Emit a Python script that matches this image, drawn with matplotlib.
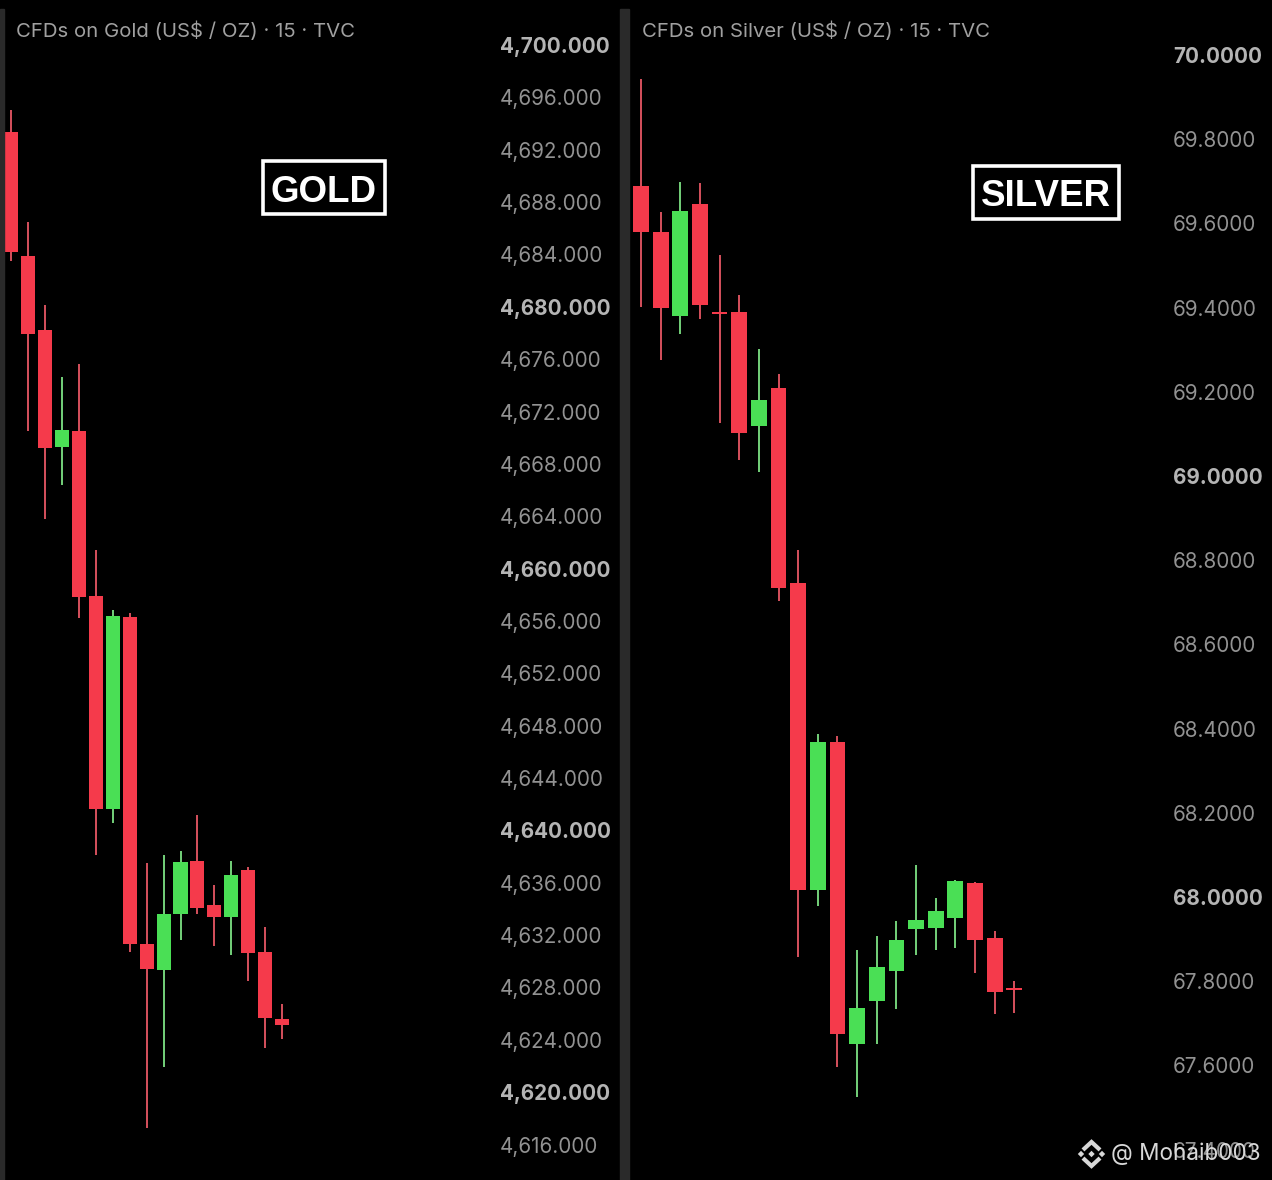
import matplotlib
matplotlib.use('Agg')
import matplotlib.pyplot as plt
from matplotlib.patches import Polygon, Rectangle

W, H = 1272, 1180

gold_open = [4693.35, 4683.9, 4678.2, 4669.3, 4670.5, 4657.9, 4641.6, 4656.3, 4631.3,
             4629.3, 4633.6, 4637.7, 4634.3, 4633.4, 4637.0, 4630.7, 4625.6]
gold_high = [4695.0, 4686.5, 4680.1, 4674.6, 4675.6, 4661.4, 4656.8, 4656.6, 4637.5,
             4638.1, 4638.4, 4641.2, 4635.8, 4637.7, 4637.2, 4632.6, 4626.7]
gold_low = [4683.5, 4670.5, 4663.8, 4666.4, 4656.2, 4638.1, 4640.6, 4630.7, 4617.3,
            4621.9, 4631.6, 4633.6, 4631.2, 4630.5, 4628.5, 4623.4, 4624.1]
gold_close = [4684.2, 4677.9, 4669.2, 4670.6, 4657.8, 4641.6, 4656.4, 4631.3, 4629.4,
              4633.6, 4637.6, 4634.1, 4633.4, 4636.6, 4630.6, 4625.7, 4625.1]

silver_open = [69.690, 69.580, 69.381, 69.645, 69.389, 69.390, 69.118, 69.209, 68.745, 68.016,
               68.368, 67.650, 67.752, 67.824, 67.924, 67.927, 67.951, 68.034, 67.903, 67.783]
silver_high = [69.942, 69.627, 69.699, 69.696, 69.525, 69.429, 69.301, 69.242, 68.825, 68.387,
               68.383, 67.874, 67.907, 67.942, 68.076, 67.998, 68.040, 68.036, 67.919, 67.801]
silver_low = [69.402, 69.276, 69.338, 69.373, 69.126, 69.038, 69.010, 68.702, 67.857, 67.979,
              67.596, 67.525, 67.650, 67.733, 67.862, 67.875, 67.879, 67.820, 67.722, 67.725]
silver_close = [69.580, 69.398, 69.630, 69.405, 69.385, 69.102, 69.181, 68.733, 68.016, 68.368,
                67.675, 67.736, 67.833, 67.897, 67.946, 67.966, 68.037, 67.897, 67.775, 67.779]

gold_ticks = [4700, 4696, 4692, 4688, 4684, 4680, 4676, 4672, 4668, 4664, 4660, 4656,
              4652, 4648, 4644, 4640, 4636, 4632, 4628, 4624, 4620, 4616]
silver_ticks = [70.0, 69.8, 69.6, 69.4, 69.2, 69.0, 68.8, 68.6, 68.4, 68.2, 68.0,
                67.8, 67.6, 67.4]

RED = '#F53A4B'
GREEN = '#4ADF55'
WICK_RED = '#DE5461'
WICK_GREEN = '#78D97E'
GRID = '#2A2A2A'
TICK = '#929292'
TICK_BOLD = '#B4B4B4'
FONT = 'Inter'


def candles(ax, o, h, l, c, width):
    for i in range(len(o)):
        up = c[i] >= o[i]
        ax.vlines(i, l[i], h[i], color=WICK_GREEN if up else WICK_RED, lw=1.35, zorder=2)
        ax.bar(i, abs(c[i] - o[i]), bottom=min(o[i], c[i]), width=width,
               color=GREEN if up else RED, linewidth=0, zorder=3)


def make_panel(left, right, x0, step, y_ref, y_val, scale):
    # pixel box -> axes, limits follow from where the labels sit in the picture
    ax = fig.add_axes([left / W, 0, (right - left) / W, (H - 9) / H])
    ax.set_facecolor('black')
    ax.set_xlim((left - x0) / step, (right - x0) / step)
    ax.set_ylim(y_val - (H - y_ref) / scale, y_val + (y_ref - 9) / scale)
    for s in ax.spines.values():
        s.set_visible(False)
    ax.set_xticks([])
    ax.yaxis.tick_right()
    ax.tick_params(axis='y', length=0, pad=0)
    return ax


fig = plt.figure(figsize=(W / 100, H / 100), dpi=100, facecolor='black')

# grey panel separators
fig.add_artist(Rectangle((0, 0), 4 / W, (H - 9) / H, color=GRID, transform=fig.transFigure))
fig.add_artist(Rectangle((620 / W, 0), 9 / W, (H - 9) / H, color=GRID, transform=fig.transFigure))

ax1 = make_panel(4, 500, 11.3, 16.92, 45, 4700, 13.09)
candles(ax1, gold_open, gold_high, gold_low, gold_close, 0.83)
ax1.set_yticks(gold_ticks)
ax1.set_yticklabels([f'{t:,.3f}' for t in gold_ticks], family=FONT, fontsize=14.85)
for t, lab in zip(gold_ticks, ax1.get_yticklabels()):
    bold = t % 20 == 0
    lab.set_color(TICK_BOLD if bold else TICK)
    lab.set_fontweight('bold' if bold else 'normal')

ax2 = make_panel(630, 1173, 641, 19.647, 55, 70.0, 421.0)
candles(ax2, silver_open, silver_high, silver_low, silver_close, 0.8)
ax2.set_yticks(silver_ticks)
ax2.set_yticklabels([f'{t:.4f}' for t in silver_ticks], family=FONT, fontsize=14.85)
for t, lab in zip(silver_ticks, ax2.get_yticklabels()):
    bold = abs(t - round(t)) < 1e-6
    lab.set_color(TICK_BOLD if bold else TICK)
    lab.set_fontweight('bold' if bold else 'normal')

# titles
fig.text(16 / W, 1 - 31 / H, 'CFDs on Gold (US$ / OZ) · 15 · TVC', color='#A0A0A0',
         family=FONT, fontsize=14.65, va='center', ha='left')
fig.text(642 / W, 1 - 31 / H, 'CFDs on Silver (US$ / OZ) · 15 · TVC', color='#A0A0A0',
         family=FONT, fontsize=14.65, va='center', ha='left')

# overlay in picture pixels for the boxes and the watermark
over = fig.add_axes([0, 0, 1, 1], facecolor='none')
over.set_xlim(0, W)
over.set_ylim(H, 0)
over.axis('off')

for label, x, y, bx, by, bw, bh in [('GOLD', 324, 188, 263, 161, 122, 53),
                                    ('SILVER', 1045.5, 193, 972.5, 166, 146, 53)]:
    over.add_patch(Rectangle((bx, by), bw, bh, fc='black', ec='white', lw=2.6))
    over.text(x, y, label, color='white', family='Liberation Sans', fontweight='bold',
              fontsize=26.5, ha='center', va='center_baseline')

cx, cy = 1091.5, 1154
LOGO = '#D8D8D8'
for dx, dy, r in [(0, 0, 3.2), (-10.5, 0, 3.2), (10.5, 0, 3.2)]:
    over.add_patch(Polygon([(cx + dx - r, cy + dy), (cx + dx, cy + dy - r),
                            (cx + dx + r, cy + dy), (cx + dx, cy + dy + r)], color=LOGO, lw=0))
for sgn in (-1, 1):
    over.plot([cx - 7, cx, cx + 7], [cy + sgn * 5.5, cy + sgn * 12, cy + sgn * 5.5],
              color=LOGO, lw=3, solid_joinstyle='miter')
over.text(1111, 1154, '@ Mohaib003', color='#D8D8D8', family=FONT, fontsize=16.2,
          ha='left', va='center')

fig.savefig('out.png', dpi=100, facecolor='black')
